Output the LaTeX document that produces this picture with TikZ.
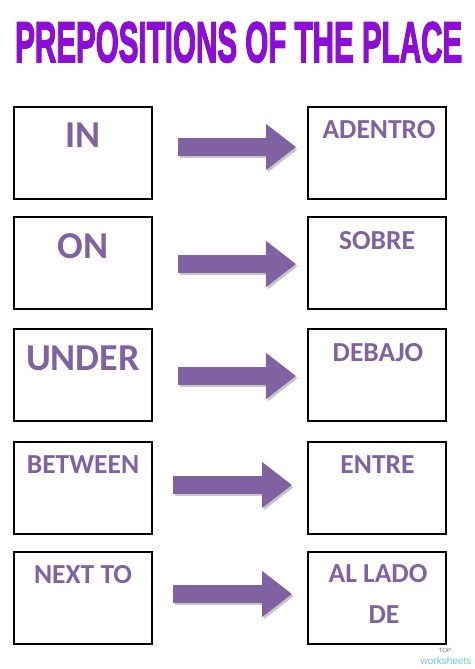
\documentclass[tikz,border=0pt]{standalone}
\usepackage{fontspec}
\usepackage{graphicx}
\setmainfont{Carlito}
\newfontfamily\titlefont[FakeBold=3]{Liberation Sans Bold}
\newfontfamily\wmfont{Liberation Sans}
\usetikzlibrary{arrows.meta}
\definecolor{purp}{RGB}{128,98,162}
\definecolor{titlecol}{RGB}{140,14,214}
\definecolor{wmteal}{RGB}{104,200,204}
\begin{document}
\begin{tikzpicture}[x=1pt,y=-1pt,
  box/.style={draw=black,line width=1.8pt,minimum width=138pt,minimum height=92pt,inner sep=0pt},
  biglbl/.style={text=purp,inner sep=0pt,anchor=base,font=\bfseries\fontsize{38}{40}\selectfont},
  smalllbl/.style={text=purp,inner sep=0pt,anchor=base,font=\bfseries\fontsize{27.5}{41}\selectfont},
  bigarrow/.style={draw=purp,line width=18pt,-{Triangle[length=30pt,width=44pt]}},
  arrowshadow/.style={draw=black!22,line width=18pt,-{Triangle[length=30pt,width=44pt]},
     transform canvas={xshift=1.6pt,yshift=-2.4pt}}]
\useasboundingbox[fill=white] (0,0) rectangle (474,669);
% title
\node[anchor=base west,inner sep=0pt,text=titlecol] (title) at (15,62)
  {\resizebox{447pt}{40pt}{\titlefont PREPOSITIONS OF THE PLACE}};
% boxes
\foreach \i/\y in {1/153,2/263,3/375,4/488,5/598}{
  \node[box] (L\i) at (83,\y) {};
  \node[box] (R\i) at (377,\y) {};
}
% left labels
\node[biglbl] (tin) at (83,147) {IN};
\node[biglbl] (ton) at (83,258) {ON};
\node[biglbl] (tunder) at (83,370) {UNDER};
\node[smalllbl] (tbetween) at (83,473) {BETWEEN};
\node[smalllbl] (tnext) at (83,583) {NEXT TO};
% right labels
\node[smalllbl] (tadentro) at (379,138) {ADENTRO};
\node[smalllbl] (tsobre) at (377,249) {SOBRE};
\node[smalllbl] (tdebajo) at (378,361) {DEBAJO};
\node[smalllbl] (tentre) at (377.5,473) {ENTRE};
\node[smalllbl,anchor=center,align=center] (tallado) at (378,594) {AL LADO\\\hspace*{12pt}DE};
% arrows
\foreach \i/\s/\a/\b in {1/6/25/11,2/-1/25/11,3/-1/25/11,4/3/20/15,5/4/20/15}{
  \draw[arrowshadow,shorten <=\a pt,shorten >=\b pt] ([yshift=\s pt]L\i.east) -- ([yshift=\s pt]R\i.west);
  \draw[bigarrow,shorten <=\a pt,shorten >=\b pt] ([yshift=\s pt]L\i.east) -- ([yshift=\s pt]R\i.west);
}
% watermark
\node[inner sep=0pt,text=black!55,font=\wmfont\fontsize{6}{7}\selectfont] (wtop) at (445,650) {TOP};
\node[inner sep=0pt,text=wmteal,font=\wmfont\fontsize{10}{11}\selectfont] (wws) at (446,661) {worksheets};
\end{tikzpicture}
\end{document}
